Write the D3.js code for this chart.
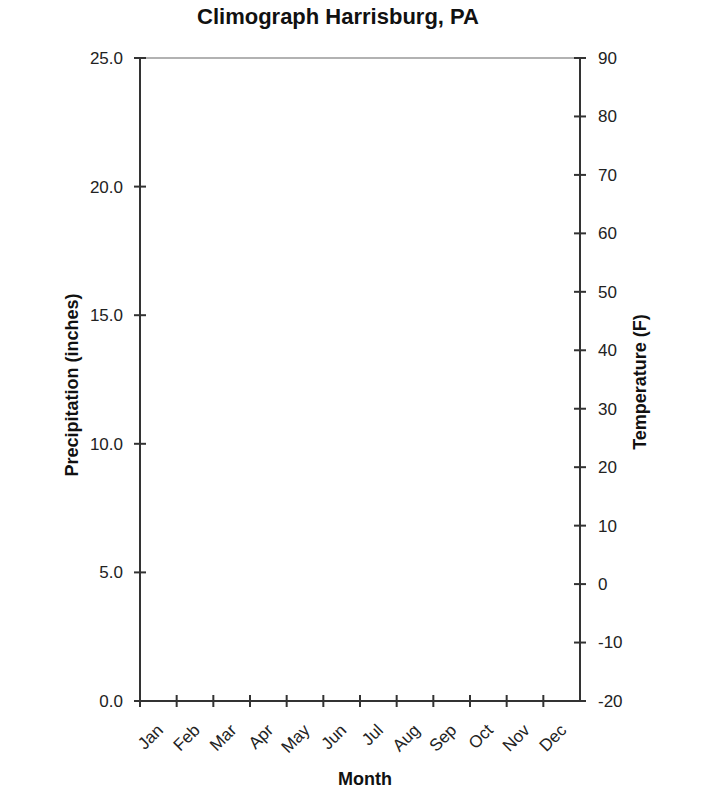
<!DOCTYPE html>
<html><head><meta charset="utf-8">
<script src="https://cdn.jsdelivr.net/npm/d3@7"></script>
<style>body{margin:0;background:#fff;} text{font-family:Arial,"Liberation Sans",sans-serif;}</style>
</head><body>
<svg id="c" width="710" height="802"></svg>
<script>
const months = ["Jan","Feb","Mar","Apr","May","Jun","Jul","Aug","Sep","Oct","Nov","Dec"];
const precipitation = []; // no data shown in reference
const temperature = [];   // no data shown in reference
const precipTicks = [0,5,10,15,20,25];
const tempTicks = [-20,-10,0,10,20,30,40,50,60,70,80,90];

const svg = d3.select("#c");
const L = 140, R = 580, T = 58, B = 701;
const x = d3.scaleBand().domain(months).range([L, R]);
const yP = d3.scaleLinear().domain([0,25]).range([B, T]);
const yT = d3.scaleLinear().domain([-20,90]).range([B, T]);
const axisColor = "#333";

// top border
svg.append("line").attr("x1",L).attr("x2",R).attr("y1",T).attr("y2",T)
  .attr("stroke","#999").attr("stroke-width",1.5);

// data marks (empty)
svg.append("g").selectAll("rect").data(precipitation).join("rect")
  .attr("x",(d,i)=>x(months[i])+4).attr("width",x.bandwidth()-8)
  .attr("y",d=>yP(d)).attr("height",d=>B-yP(d)).attr("fill","#69c");
svg.append("path").datum(temperature)
  .attr("fill","none").attr("stroke","#c33").attr("stroke-width",2)
  .attr("d",d3.line().x((d,i)=>x(months[i])+x.bandwidth()/2).y(d=>yT(d)));

// left axis
const gl = svg.append("g");
gl.append("line").attr("x1",L).attr("x2",L).attr("y1",T).attr("y2",B).attr("stroke",axisColor).attr("stroke-width",2);
precipTicks.forEach(v=>{
  gl.append("line").attr("x1",L-6).attr("x2",L+6).attr("y1",yP(v)).attr("y2",yP(v)).attr("stroke",axisColor).attr("stroke-width",2);
  gl.append("text").attr("x",L-17).attr("y",yP(v)).attr("dy","0.35em").attr("text-anchor","end")
    .attr("font-size",17).attr("fill","#222").text(v.toFixed(1));
});

// right axis
const gr = svg.append("g");
gr.append("line").attr("x1",R).attr("x2",R).attr("y1",T).attr("y2",B).attr("stroke",axisColor).attr("stroke-width",2);
tempTicks.forEach(v=>{
  gr.append("line").attr("x1",R-6).attr("x2",R+6).attr("y1",yT(v)).attr("y2",yT(v)).attr("stroke",axisColor).attr("stroke-width",2);
  gr.append("text").attr("x",R+18).attr("y",yT(v)).attr("dy","0.35em").attr("text-anchor","start")
    .attr("font-size",17).attr("fill","#222").text(v);
});

// bottom axis
const gb = svg.append("g");
gb.append("line").attr("x1",L).attr("x2",R).attr("y1",B).attr("y2",B).attr("stroke",axisColor).attr("stroke-width",2);
months.forEach(m=>{
  const tx = x(m);
  gb.append("line").attr("x1",tx).attr("x2",tx).attr("y1",B-6).attr("y2",B+6).attr("stroke",axisColor).attr("stroke-width",2);
  gb.append("text").attr("text-anchor","end").attr("font-size",17).attr("fill","#222")
    .attr("transform",`translate(${tx+20},${B+26}) rotate(-45)`).attr("dy","0.35em").text(m);
});

// titles
svg.append("text").attr("x",338).attr("y",24).attr("text-anchor","middle")
  .attr("font-size",22).attr("font-weight","bold").attr("fill","#111").text("Climograph Harrisburg, PA");
svg.append("text").attr("x",365).attr("y",785).attr("text-anchor","middle")
  .attr("font-size",18).attr("font-weight","bold").attr("fill","#111").text("Month");
svg.append("text").attr("transform","translate(78,385) rotate(-90)").attr("text-anchor","middle")
  .attr("font-size",18).attr("font-weight","bold").attr("fill","#111").text("Precipitation (inches)");
svg.append("text").attr("transform","translate(646,382) rotate(-90)").attr("text-anchor","middle")
  .attr("font-size",18).attr("font-weight","bold").attr("fill","#111").text("Temperature (F)");
</script>
</body></html>
